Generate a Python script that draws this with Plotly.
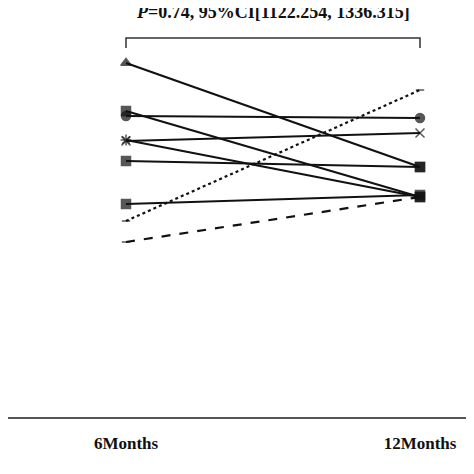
import plotly.graph_objects as go

categories = ["6Months", "12Months"]
# values per patient (arbitrary units)
series = {
    "p1": [354, 250],
    "p2": [306, 220],
    "p3": [301, 299],
    "p4": [276, 284],
    "p5": [277, 220],
    "p6": [256, 250],
    "p7": [213, 222],
    "p8": [196, 327],
    "p9": [175, 220],
}
markers = {
    "p1": ("triangle-up", "square"),
    "p2": ("square", "square"),
    "p3": ("circle", "circle"),
    "p4": ("x-thin-open", "x-thin-open"),
    "p5": ("asterisk-open", "square-x"),
    "p6": ("square-x", "square-x"),
    "p7": ("square-x", "square-x"),
    "p8": ("line-ew-open", "line-ew-open"),
    "p9": ("line-ew-open", "line-ew-open"),
}
dash = {"p8": "dot", "p9": "dash"}
xpos = [0, 1]

fig = go.Figure()
for k, v in series.items():
    m = markers[k]
    fig.add_trace(go.Scatter(
        x=xpos, y=v, mode="lines+markers",
        line=dict(color="#111", width=2.2, dash=dash.get(k, "solid")),
        marker=dict(symbol=list(m), size=[9, 9] if k not in dash else [6, 6],
                    color="#111", line=dict(color="#111", width=1.5)),
        showlegend=False))

# bracket
fig.add_shape(type="path", path="M 0,369 L 0,379 L 1,379 L 1,369",
              line=dict(color="#333", width=1.5), xref="x", yref="y")
# axis mid tick
fig.add_shape(type="line", x0=0.503, x1=0.503, y0=0, y1=-5,
              line=dict(color="#555", width=1.5), xref="x", yref="y")
fig.add_annotation(x=0.5, y=405, xref="x", yref="y", yanchor="middle",
                   text="<b><i>P</i>=0.74, 95%CI[1122.254, 1336.315]</b>",
                   showarrow=False,
                   font=dict(family="Liberation Serif", size=18, color="#111"))
fig.add_annotation(x=0.5, y=-49, xref="x", yref="y", yanchor="middle",
                   text="<b>Months after disease onset</b>", showarrow=False,
                   font=dict(family="Liberation Serif", size=17, color="#111"))

fig.update_layout(
    width=474, height=474, margin=dict(l=0, r=0, t=0, b=65),
    plot_bgcolor="white", paper_bgcolor="white",
    xaxis=dict(range=[-118/294, 356/294], tickvals=xpos,
               ticktext=["<b>" + c + "</b>" for c in categories],
               showgrid=False, zeroline=False, showline=True, linecolor="#555",
               linewidth=1.5, ticks="", ticklabelstandoff=10,
               tickfont=dict(family="Liberation Serif", size=17, color="#111")),
    yaxis=dict(range=[0, 409], visible=False),
)
fig.write_html("out.html")
